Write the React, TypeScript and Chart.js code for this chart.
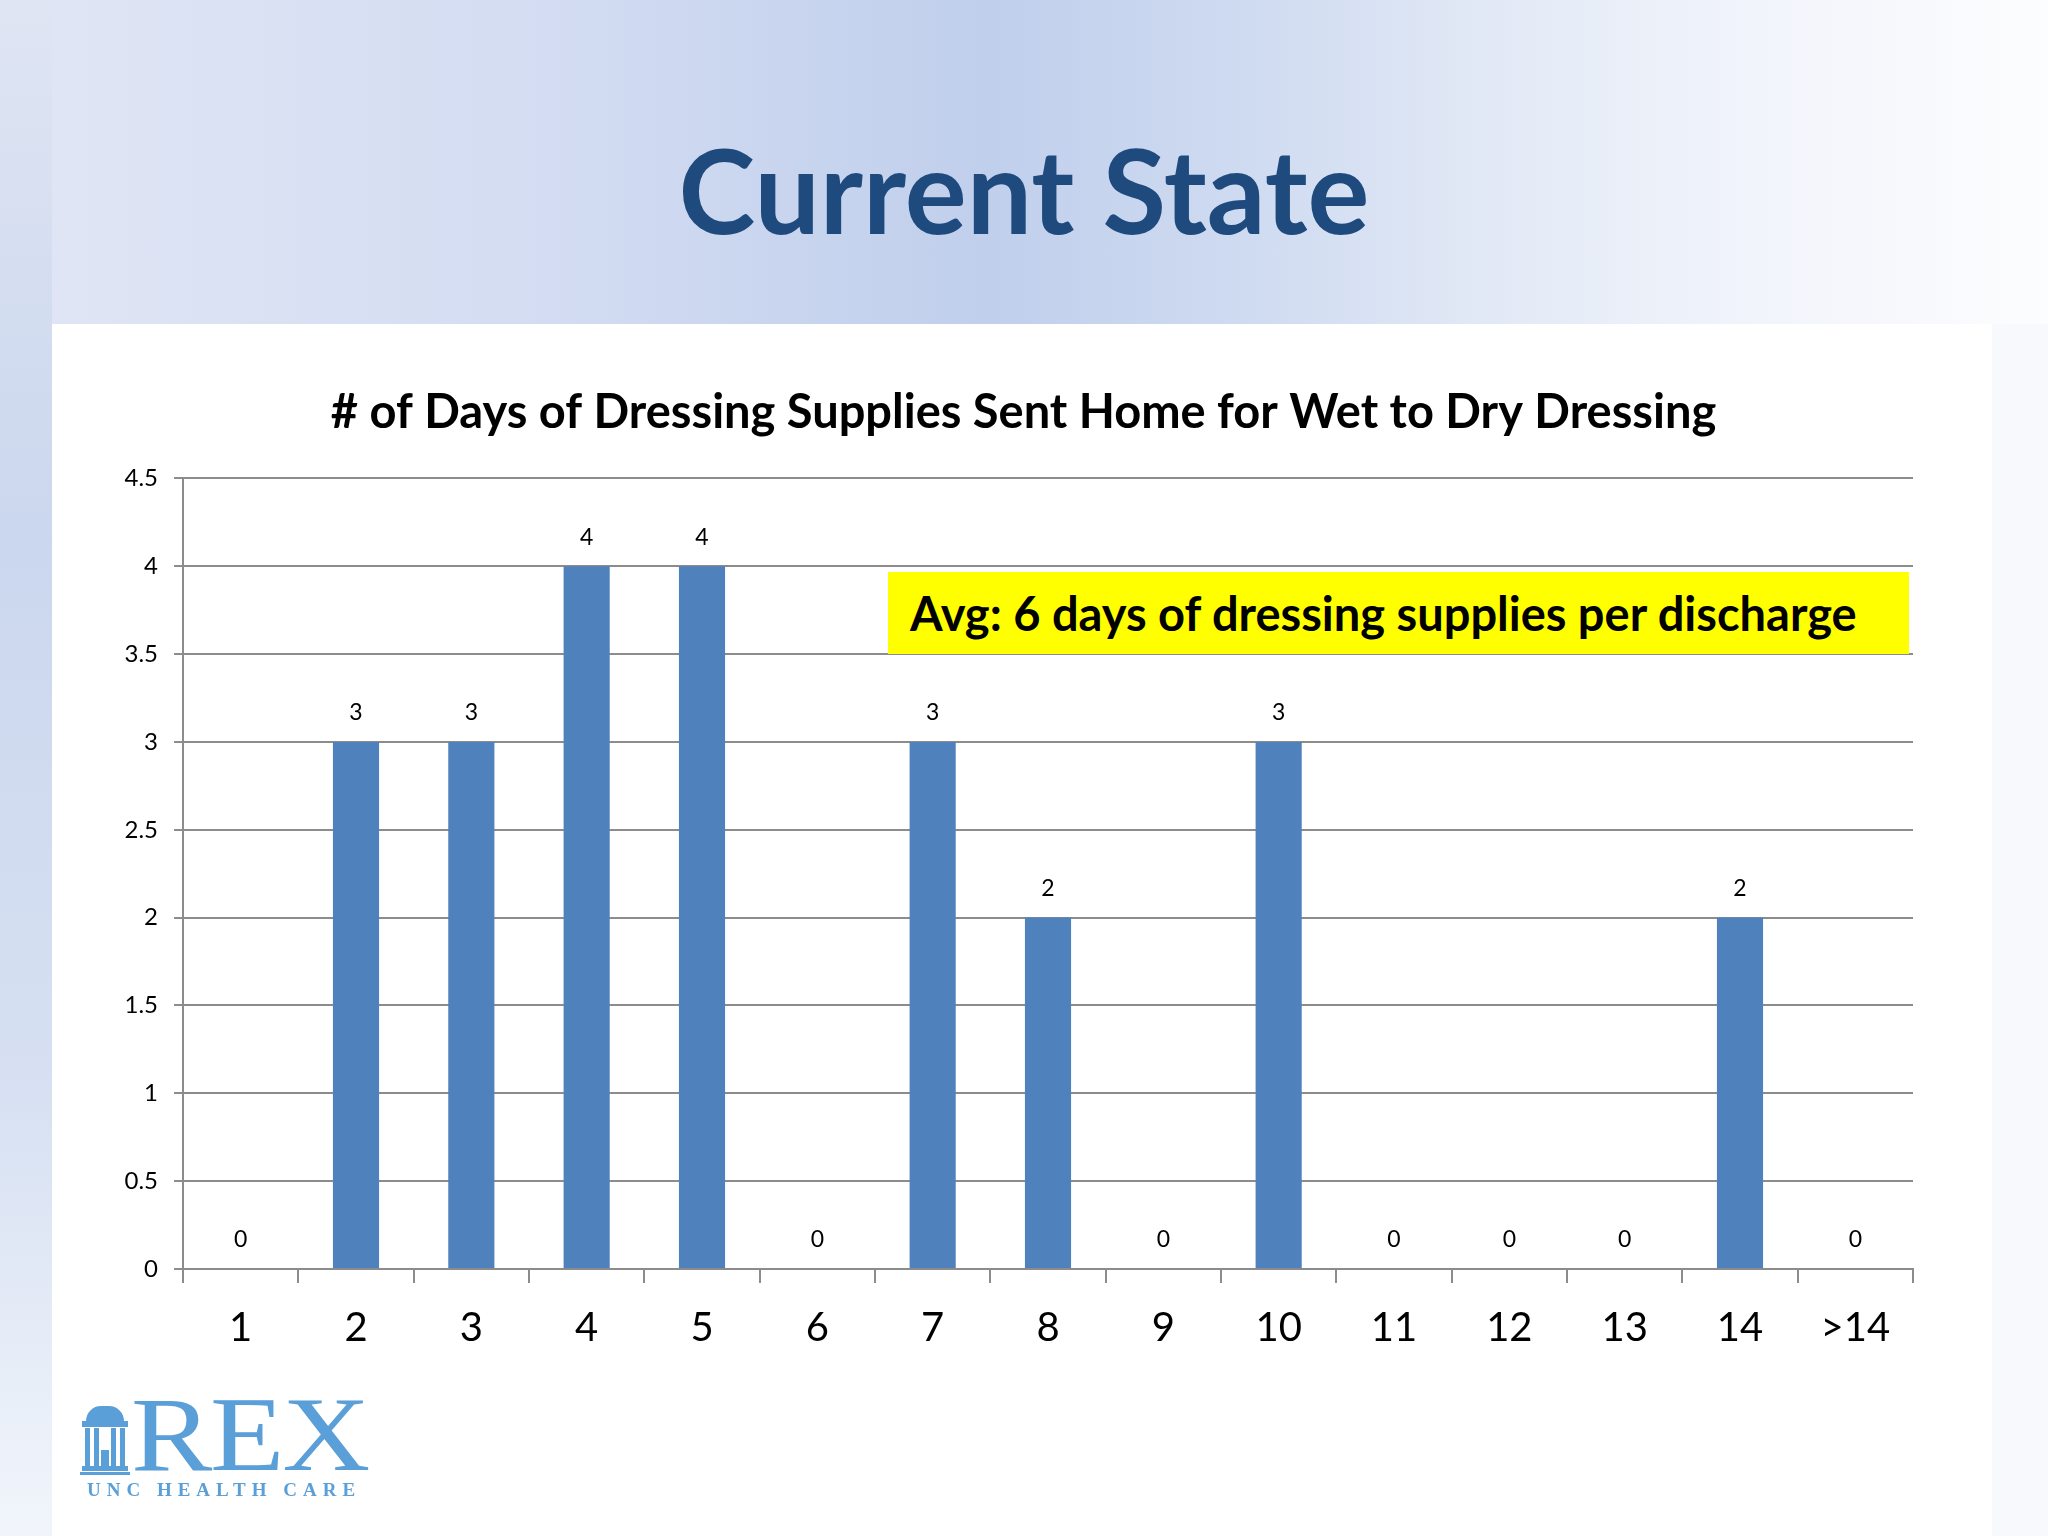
import React, { useEffect, useRef } from "react";
import { Chart, registerables } from "chart.js";

Chart.register(...registerables);

// ---- data ----
const slideTitle = "Current State";
const chartTitle = "# of Days of Dressing Supplies Sent Home for Wet to Dry Dressing";
const avgNote = "Avg: 6 days of dressing supplies per discharge";
const categories = ["1", "2", "3", "4", "5", "6", "7", "8", "9", "10", "11", "12", "13", "14", ">14"];
const counts = [0, 3, 3, 4, 4, 0, 3, 2, 0, 3, 0, 0, 0, 2, 0];
const yMin = 0;
const yMax = 4.5;
const yStep = 0.5;

const FONT = "Lato, Carlito, 'Noto Sans', sans-serif";

const valueLabelPlugin = {
  id: "valueLabels",
  afterDatasetsDraw(chart: any) {
    const ctx = chart.ctx;
    const meta = chart.getDatasetMeta(0);
    ctx.save();
    ctx.font = `23px ${FONT}`;
    ctx.fillStyle = "#000";
    ctx.textAlign = "center";
    ctx.textBaseline = "middle";
    meta.data.forEach((bar: any, i: number) => {
      ctx.fillText(String(counts[i]), bar.x, bar.y - 29);
    });
    ctx.restore();
  },
};

// centre the chart title over the slide rather than over the canvas box
const titleCentrePlugin = {
  id: "titleCentre",
  afterLayout(chart: any) {
    const t = chart.titleBlock;
    if (t) {
      t.left = 82;
      t.width = t.right - t.left;
    }
  },
};

function BarChart() {
  const ref = useRef<HTMLCanvasElement | null>(null);
  useEffect(() => {
    let chart: Chart | null = null;
    let cancelled = false;
    const make = () => {
      if (cancelled || !ref.current) return;
      chart = new Chart(ref.current, {
        type: "bar",
        data: {
          labels: categories,
          datasets: [
            {
              data: counts,
              backgroundColor: "#4F81BD",
              borderWidth: 0,
              categoryPercentage: 1,
              barPercentage: 0.4,
            },
          ],
        },
        options: {
          responsive: false,
          animation: false,
          devicePixelRatio: 1,
          layout: { padding: { left: 0, right: 79, top: 0, bottom: 163 } },
          plugins: {
            legend: { display: false },
            tooltip: { enabled: false },
            title: {
              display: true,
              text: chartTitle,
              color: "#000",
              font: { family: FONT, weight: "bold", size: 47, lineHeight: 1.2 },
              padding: { top: 61, bottom: 37 },
            },
          },
          scales: {
            x: {
              grid: {
                drawOnChartArea: false,
                drawTicks: true,
                tickLength: 14,
                color: "#8c8c8c",
                lineWidth: 2,
                offset: true,
              },
              border: { color: "#8c8c8c", width: 2 },
              ticks: {
                color: "#000",
                font: { family: FONT, size: 40 },
                padding: 21,
                maxRotation: 0,
                autoSkip: false,
              },
            },
            y: {
              min: yMin,
              max: yMax,
              grid: { color: "#8c8c8c", lineWidth: 2, tickLength: 9 },
              border: { color: "#8c8c8c", width: 2 },
              ticks: {
                stepSize: yStep,
                color: "#000",
                font: { family: FONT, size: 24 },
                padding: 16,
                callback: (v: any) => String(v),
              },
              afterFit: (s: any) => {
                s.width = 131;
              },
            },
          },
        },
        plugins: [valueLabelPlugin, titleCentrePlugin],
      } as any);
    };
    const fonts = (document as any).fonts;
    if (fonts && fonts.load) {
      Promise.all([
        fonts.load(`bold 47px Lato`),
        fonts.load(`40px Lato`),
        fonts.load(`24px Lato`),
      ])
        .catch(() => null)
        .then(make);
    } else {
      make();
    }
    return () => {
      cancelled = true;
      if (chart) chart.destroy();
    };
  }, []);
  return (
    <canvas
      ref={ref}
      width={1940}
      height={1212}
      style={{ position: "absolute", left: 52, top: 324, width: 1940, height: 1212 }}
    />
  );
}

function Logo() {
  const c = "#5A9FD8";
  return (
    <div style={{ position: "absolute", left: 81, top: 1400, width: 300, height: 110 }}>
      {/* old well icon */}
      <div style={{ position: "absolute", left: 5, top: 6, width: 38, height: 15, background: c, borderRadius: "19px 19px 0 0" }} />
      <div style={{ position: "absolute", left: 1, top: 21, width: 46, height: 6, background: c }} />
      {[4, 13, 30, 39].map((x) => (
        <div key={x} style={{ position: "absolute", left: x, top: 28, width: 5, height: 38, background: c }} />
      ))}
      <div style={{ position: "absolute", left: 20, top: 50, width: 8, height: 16, background: c }} />
      <div style={{ position: "absolute", left: 1, top: 66, width: 46, height: 5, background: c }} />
      <div style={{ position: "absolute", left: -1, top: 72, width: 50, height: 3, background: c }} />
      <div
        style={{
          position: "absolute",
          left: 50,
          top: -18,
          fontFamily: "'Liberation Serif', 'DejaVu Serif', serif",
          fontSize: 106,
          lineHeight: "106px",
          color: c,
          letterSpacing: -2,
          transform: "scaleX(1.15)",
          transformOrigin: "left top",
        }}
      >
        REX
      </div>
      <div
        style={{
          position: "absolute",
          left: 6,
          top: 80,
          fontFamily: "'Liberation Serif', 'DejaVu Serif', serif",
          fontSize: 19,
          lineHeight: "20px",
          color: c,
          letterSpacing: 6,
          fontWeight: "bold",
          whiteSpace: "nowrap",
        }}
      >
        UNC HEALTH CARE
      </div>
    </div>
  );
}

export default function App() {
  return (
    <div
      style={{
        position: "absolute",
        left: 0,
        top: 0,
        width: 2048,
        height: 1536,
        overflow: "hidden",
        background: "#f7f9fd",
        fontFamily: FONT,
      }}
    >
      {/* left strip */}
      <div
        style={{
          position: "absolute",
          left: 0,
          top: 0,
          width: 52,
          height: 1536,
          background: "linear-gradient(to bottom, #dfe5f3 0%, #cbd7ee 35%, #d6e0f2 70%, #f1f5fb 100%)",
        }}
      />
      {/* header band */}
      <div
        style={{
          position: "absolute",
          left: 52,
          top: 0,
          width: 1996,
          height: 324,
          background:
            "linear-gradient(to right, #dfe5f4 0%, #d3dcf2 25%, #c0cfec 47%, #cfdbf1 60%, #e2e9f6 72%, #f1f4fb 85%, #fcfdfe 100%)",
        }}
      />
      {/* white panel */}
      <div style={{ position: "absolute", left: 52, top: 324, width: 1940, height: 1212, background: "#ffffff" }} />
      {/* slide title */}
      <div
        style={{
          position: "absolute",
          left: 0,
          top: 117,
          width: 2048,
          textAlign: "center",
          fontFamily: FONT,
          fontWeight: "bold",
          fontSize: 116,
          lineHeight: "146px",
          color: "#1F4A7E",
        }}
      >
        {slideTitle}
      </div>
      <BarChart />
      {/* average note */}
      <div
        style={{
          position: "absolute",
          left: 888,
          top: 572,
          width: 1021,
          height: 82,
          background: "#FFFF00",
          fontFamily: FONT,
          fontWeight: "bold",
          fontSize: 47,
          lineHeight: "82px",
          color: "#000",
          paddingLeft: 22,
          boxSizing: "border-box",
          whiteSpace: "nowrap",
        }}
      >
        {avgNote}
      </div>
      <Logo />
    </div>
  );
}
